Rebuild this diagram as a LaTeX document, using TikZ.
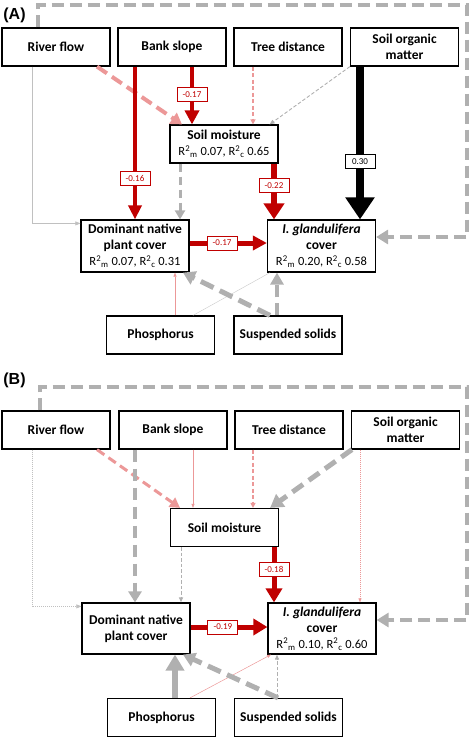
\documentclass[tikz,border=0pt]{standalone}
\usepackage{fontspec}
\setmainfont{Carlito}
\newfontfamily\panelfont{Liberation Sans}
\usepackage{tikz}
\usetikzlibrary{arrows.meta, calc, positioning}
\definecolor{colorNeg}{RGB}{192,0,0}
\definecolor{colorNegWeak}{RGB}{236,152,152}
\definecolor{colorNS}{RGB}{176,176,176}
\newcommand{\rsq}[2]{{\mdseries\fontsize{12.5}{16}\selectfont R\textsuperscript{2}\textsubscript{m} #1, R\textsuperscript{2}\textsubscript{c} #2}}
\tikzset{
  var/.style={draw=black, line width=1.2pt, fill=white, minimum width=108pt, minimum height=38pt,
    inner sep=1pt, align=center, font=\fontsize{13.5}{16}\selectfont\bfseries},
  coef/.style={draw=colorNeg, fill=white, text=colorNeg, line width=0.9pt, inner sep=1.5pt,
    minimum width=30pt, minimum height=14pt, font=\fontsize{9}{10}\selectfont},
  coefpos/.style={coef, draw=black, text=black},
  tri/.style 2 args={-{Triangle[length=#1pt, width=#2pt]}},
  panel/.style={font=\panelfont\fontsize{16}{18}\selectfont\bfseries},
}

\begin{document}
\begin{tikzpicture}[x=1pt, y=-1pt]
\useasboundingbox (0,0) rectangle (474,740);

% (A)
\node[panel] (labA) at (14.5,15) {(A)};
\node[var] (rfA) at (56,47) {River flow};
\node[var] (bsA) at (172,47) {Bank slope};
\node[var] (tdA) at (288,47) {Tree distance};
\node[var] (somA) at (404.5,47) {Soil organic\\matter};
\node[var] (smA) at (224,144) {Soil moisture\\\rsq{0.07}{0.65}};
\node[var, minimum height=52pt] (dnA) at (135,246) {Dominant native\\plant cover\\\rsq{0.07}{0.31}};
\node[var, minimum height=52pt] (igA) at (321.5,246) {\textit{I. glandulifera}\\cover\\\rsq{0.20}{0.58}};
\node[var] (phA) at (160.5,335) {Phosphorus};
\node[var] (ssA) at (288,335) {Suspended solids};

\draw[colorNS, line width=4pt, dash pattern=on 12pt off 6pt, tri={12}{14}] ($(rfA.north)+(-18,0)$) |- (467,5) |- ($(igA.east)+(0,-9)$);
\draw[colorNegWeak, line width=4pt, dash pattern=on 12pt off 6pt, tri={11}{13}] ($(rfA.south)+(41,0)$) -- ($(smA.north)+(-42,0)$);
\draw[colorNS!80, line width=0.6pt, tri={5}{4}] ($(rfA.south)+(-24,0)$) |- ($(dnA.north west)+(0,4)$);
\draw[colorNeg, line width=4pt, tri={14}{13}] (bsA.south -| dnA.north) -- (dnA.north) node[coef, pos=0.73] {-0.16};
\draw[colorNeg, line width=4pt, tri={14}{14}] ($(bsA.south)+(20,0)$) -- ($(smA.north)+(-32,0)$) node[coef, pos=0.49] {-0.17};
\draw[colorNegWeak, line width=1.3pt, dash pattern=on 4pt off 2.5pt, tri={5}{5}] ($(tdA.south)+(-35,0)$) -- ($(smA.north)+(29,0)$);
\draw[colorNS, line width=0.9pt, dash pattern=on 3.5pt off 2pt, tri={5}{4}] (somA.south west) -- ($(smA.north east)+(-9,0)$);
\draw[black, line width=8pt, tri={22}{28}] ($(somA.south)+(-44.5,0)$) -- ($(igA.north)+(38.5,0)$) node[coefpos, pos=0.62] {0.30};
\draw[colorNS, line width=3pt, dash pattern=on 8pt off 5pt, tri={9}{10}] ($(smA.south)+(-44,0)$) -- ($(dnA.north)+(45,0)$);
\draw[colorNeg, line width=6pt, tri={16}{20}] ($(smA.south)+(50,0)$) -- ($(igA.north)+(-47.5,0)$) node[coef, pos=0.39] {-0.22};
\draw[colorNeg, line width=5pt, tri={14}{14}] ($(dnA.east)+(0,-3)$) -- ($(igA.west)+(0,-3)$) node[coef, pos=0.42] {-0.17};
\draw[colorNegWeak, line width=0.4pt, tri={4}{3}] ($(phA.north)+(14.5,0)$) -- ($(dnA.south)+(40,0)$);
\draw[colorNS!70, line width=0.4pt] ($(phA.north)+(32.5,0)$) -- ($(igA.south)+(-51.5,0)$);
\draw[colorNS, line width=5pt, dash pattern=on 14pt off 7pt, tri={12}{14}] ($(ssA.north)+(-18,0)$) -- ($(dnA.south)+(48,0)$);
\draw[colorNS, line width=4pt, dash pattern=on 12pt off 6pt, tri={12}{13}] ($(ssA.north)+(-11,0)$) -- ($(igA.south)+(-44.5,0)$);

% (B)
\node[panel] (labB) at (14.5,380) {(B)};
\node[var] (rfB) at (56,430) {River flow};
\node[var] (bsB) at (173,430) {Bank slope};
\node[var] (tdB) at (289,430) {Tree distance};
\node[var] (somB) at (405.5,430) {Soil organic\\matter};
\node[var] (smB) at (224.5,527.5) {Soil moisture};
\node[var, minimum height=51pt] (dnB) at (136,628.5) {Dominant native\\plant cover};
\node[var, minimum height=51pt] (igB) at (322,628.5) {\textit{I. glandulifera}\\cover\\\rsq{0.10}{0.60}};
\node[var] (phB) at (161.5,717.5) {Phosphorus};
\node[var] (ssB) at (288.5,717.5) {Suspended solids};

\draw[colorNS, line width=4pt, dash pattern=on 12pt off 6pt, tri={12}{14}] ($(rfB.north)+(-16,0)$) |- (467,387) |- ($(igB.east)+(0,-8.5)$);
\draw[colorNegWeak, line width=3pt, dash pattern=on 9pt off 5pt, tri={10}{11}] ($(rfB.south)+(41,0)$) -- ($(smB.north)+(-44.5,0)$);
\draw[colorNS!80, line width=0.6pt, dash pattern=on 1pt off 1pt, tri={5}{4}] ($(rfB.south)+(-24,0)$) |- ($(dnB.north west)+(0,4)$);
\draw[colorNS, line width=4pt, dash pattern=on 12pt off 7pt, tri={11}{13}] ($(bsB.south)+(-38,0)$) -- ($(dnB.north)+(-1,0)$);
\draw[colorNegWeak, line width=0.5pt, tri={4}{3}] ($(bsB.south)+(20,0)$) -- ($(smB.north)+(-31.5,0)$);
\draw[colorNegWeak, line width=1.2pt, dash pattern=on 4pt off 2.5pt, tri={5}{5}] ($(tdB.south)+(-36,0)$) -- ($(smB.north)+(28.5,0)$);
\draw[colorNS, line width=5pt, dash pattern=on 13pt off 7pt, tri={13}{15}] ($(somB.south west)+(1,0)$) -- ($(smB.north east)+(-9,0)$);
\draw[colorNegWeak, line width=0.5pt, dash pattern=on 1pt off 1pt, tri={4}{3}] ($(somB.south)+(-45.5,0)$) -- ($(igB.north)+(38,0)$);
\draw[colorNS, line width=1pt, dash pattern=on 3.5pt off 2pt, tri={5}{4}] ($(smB.south)+(-43.5,0)$) -- ($(dnB.north)+(45,0)$);
\draw[colorNeg, line width=5pt, tri={14}{16}] ($(smB.south)+(49.5,0)$) -- ($(igB.north)+(-48,0)$) node[coef, pos=0.41] {-0.18};
\draw[colorNeg, line width=5pt, tri={14}{16}] ($(dnB.east)+(0,-1.5)$) -- ($(igB.west)+(0,-1.5)$) node[coef, pos=0.42] {-0.19};
\draw[colorNS, line width=6pt, tri={16}{18}] ($(phB.north)+(13.5,0)$) -- ($(dnB.south)+(39,0)$);
\draw[colorNegWeak, line width=0.5pt, tri={4}{3}] ($(phB.north)+(28.5,0)$) -- ($(igB.south)+(-51,0)$);
\draw[colorNS, line width=5pt, dash pattern=on 14pt off 7pt, tri={12}{14}] ($(ssB.north)+(-10.5,0)$) -- ($(dnB.south)+(47,0)$);
\draw[colorNS, line width=1pt, dash pattern=on 3.5pt off 2pt, tri={5}{4}] ($(ssB.north)+(-11.5,0)$) -- ($(igB.south)+(-45,0)$);
\end{tikzpicture}
\end{document}
